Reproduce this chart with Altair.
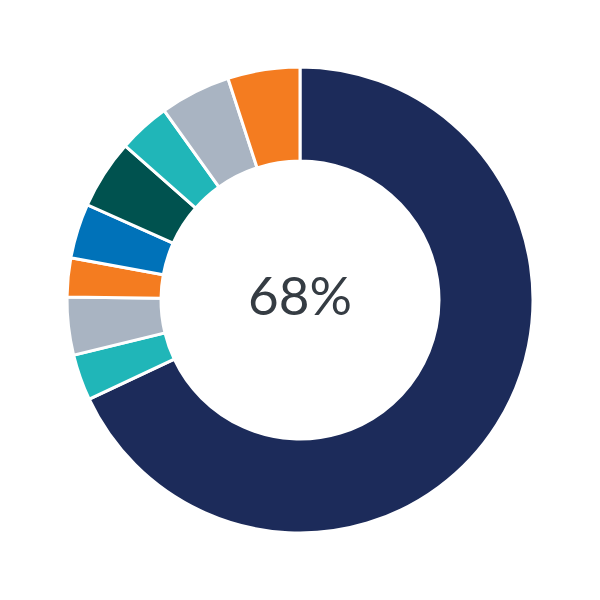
import altair as alt
import pandas as pd

categories = ["A", "B", "C", "D", "E", "F", "G", "H", "I"]
values = [68.0, 3.2, 4.0, 2.7, 3.8, 4.8, 3.6, 4.9, 5.0]
colors = ["#1c2b5a", "#20b6b8", "#a9b4c2", "#f47c20", "#0072b9",
          "#00524f", "#20b6b8", "#a9b4c2", "#f47c20"]
center_label = "68%"

df = pd.DataFrame({"cat": categories, "value": values, "ord": list(range(len(categories)))})

arcs = alt.Chart(df).mark_arc(
    outerRadius=233, innerRadius=139, stroke="white", strokeWidth=3
).encode(
    theta=alt.Theta("value:Q", stack=True),
    order=alt.Order("ord:Q"),
    color=alt.Color("cat:N", scale=alt.Scale(domain=categories, range=colors), legend=None),
)

text = alt.Chart(pd.DataFrame({"t": [center_label]})).mark_text(
    font="Lato", fontSize=53, fontWeight=400, color="#353c43",
    baseline="alphabetic", align="center"
).encode(
    text="t:N",
    x=alt.value(292),
    y=alt.value(307),
)

chart = (arcs + text).properties(
    width=584, height=584, padding=0, autosize=alt.AutoSizeParams(type="none")
).configure_view(stroke=None)

chart.save("out.html", embed_options={"renderer": "svg", "actions": False})
